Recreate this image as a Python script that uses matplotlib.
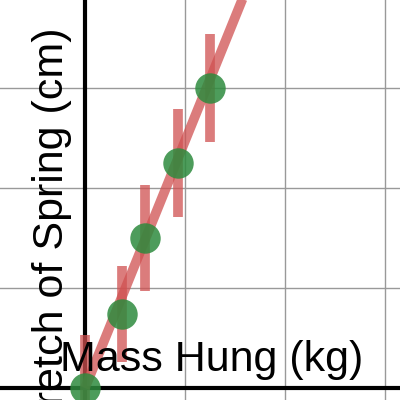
import numpy as np
import matplotlib.pyplot as plt

mass = [0.0, 0.37, 0.6, 0.93, 1.25]
stretch = [0.0, 0.74, 1.5, 2.25, 3.0]
err = [0.53, 0.48, 0.53, 0.54, 0.54]
slope = 2.47

fig = plt.figure(figsize=(4, 4), dpi=100)
ax = fig.add_axes([0, 0, 1, 1])
ax.set_xlim(-0.85, 3.15)
ax.set_ylim(-0.12, 3.88)

for g in [1, 2, 3]:
    ax.axvline(g, color='#999999', lw=1, zorder=0)
    ax.axhline(g, color='#999999', lw=1, zorder=0)
ax.axvline(0, color='black', lw=3, zorder=1)
ax.axhline(0, color='black', lw=3, zorder=1)

xs = np.array([0, 2])
ax.plot(xs, slope * xs, color='#d05050', alpha=0.75, lw=7, solid_capstyle='butt', zorder=2)
ax.errorbar(mass, stretch, yerr=err, fmt='none', ecolor='#d05050', alpha=0.75,
            elinewidth=7, capsize=0, zorder=2)
ax.scatter(mass, stretch, s=480, color='#2e8b3e', alpha=0.85, zorder=3, linewidths=0)

ax.text(-0.25, 0.17, 'Mass Hung (kg)', fontsize=31, family='Liberation Sans', zorder=4)
ax.text(-0.13, 3.6, 'Stretch of Spring (cm)', fontsize=31, family='Liberation Sans',
        rotation=90, ha='right', va='top', zorder=4)

ax.set_xticks([])
ax.set_yticks([])
for s in ax.spines.values():
    s.set_visible(False)

fig.savefig('out.png', dpi=100)
